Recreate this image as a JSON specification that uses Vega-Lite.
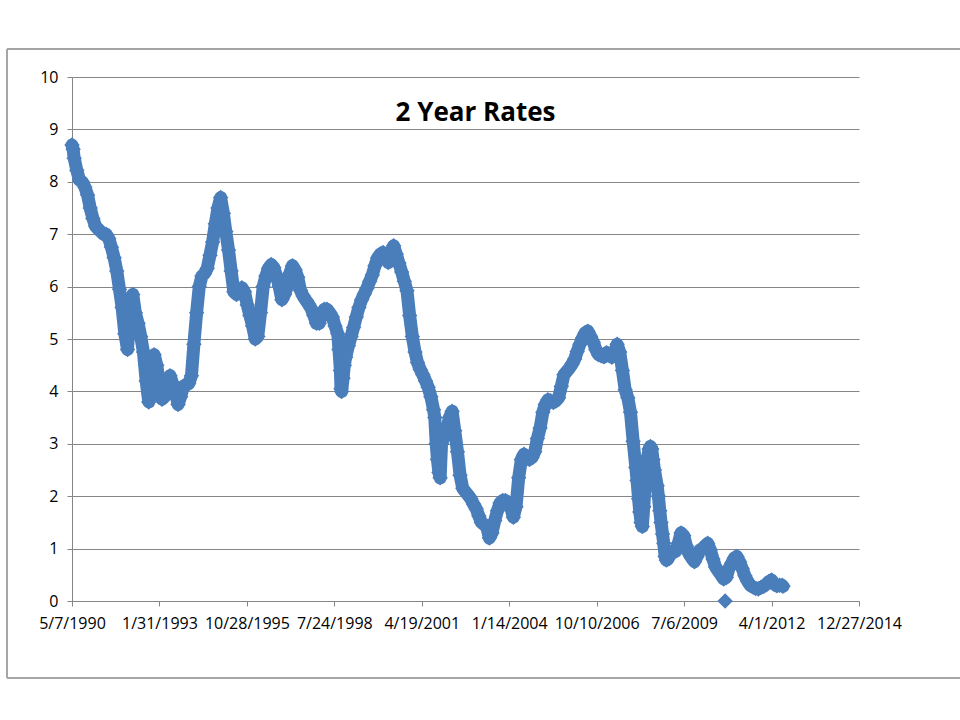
{
  "$schema": "https://vega.github.io/schema/vega-lite/v6.json",
  "autosize": {"type": "none"},
  "padding": {"left": 72, "top": 77, "right": 101, "bottom": 119},
  "width": 787,
  "height": 524,
  "background": "white",
  "config": {
    "font": "Open Sans",
    "view": {"stroke": null},
    "axis": {
      "labelFont": "Open Sans",
      "labelFontSize": 16,
      "labelColor": "#000000",
      "domainColor": "#868686",
      "tickColor": "#868686",
      "gridColor": "#868686",
      "gridOpacity": 1,
      "tickSize": 5,
      "title": null
    }
  },
  "title": {
    "text": "2 Year Rates",
    "font": "Open Sans",
    "fontSize": 26,
    "fontWeight": "bold",
    "color": "#000000",
    "anchor": "middle",
    "offset": -77,
    "dx": 10
  },
  "data": {
    "values": [
      {"date": "1990-05-07", "rate": 8.7},
      {"date": "1990-05-20", "rate": 8.62},
      {"date": "1990-06-01", "rate": 8.45},
      {"date": "1990-07-01", "rate": 8.22},
      {"date": "1990-08-01", "rate": 8.03},
      {"date": "1990-09-01", "rate": 8.0},
      {"date": "1990-10-01", "rate": 7.9},
      {"date": "1990-11-01", "rate": 7.75},
      {"date": "1990-12-01", "rate": 7.5},
      {"date": "1991-01-01", "rate": 7.3},
      {"date": "1991-02-01", "rate": 7.15},
      {"date": "1991-03-01", "rate": 7.1},
      {"date": "1991-04-01", "rate": 7.05},
      {"date": "1991-05-01", "rate": 7.0},
      {"date": "1991-06-01", "rate": 7.0},
      {"date": "1991-07-01", "rate": 6.92},
      {"date": "1991-08-01", "rate": 6.75},
      {"date": "1991-09-01", "rate": 6.55},
      {"date": "1991-10-01", "rate": 6.3},
      {"date": "1991-11-01", "rate": 5.95},
      {"date": "1991-12-01", "rate": 5.6},
      {"date": "1992-01-01", "rate": 5.1},
      {"date": "1992-02-01", "rate": 4.8},
      {"date": "1992-03-01", "rate": 5.6},
      {"date": "1992-04-01", "rate": 5.85},
      {"date": "1992-05-01", "rate": 5.5},
      {"date": "1992-06-01", "rate": 5.3},
      {"date": "1992-07-01", "rate": 5.05},
      {"date": "1992-08-01", "rate": 4.75},
      {"date": "1992-09-01", "rate": 4.2},
      {"date": "1992-10-01", "rate": 3.8},
      {"date": "1992-11-01", "rate": 4.2},
      {"date": "1992-12-01", "rate": 4.7},
      {"date": "1993-01-01", "rate": 4.5},
      {"date": "1993-02-01", "rate": 4.1},
      {"date": "1993-03-01", "rate": 3.85},
      {"date": "1993-04-01", "rate": 3.9},
      {"date": "1993-05-01", "rate": 4.05},
      {"date": "1993-06-01", "rate": 4.3},
      {"date": "1993-07-01", "rate": 4.15},
      {"date": "1993-08-01", "rate": 4.0},
      {"date": "1993-09-01", "rate": 3.75},
      {"date": "1993-10-01", "rate": 3.9},
      {"date": "1993-11-01", "rate": 4.1},
      {"date": "1993-12-01", "rate": 4.12},
      {"date": "1994-01-01", "rate": 4.15},
      {"date": "1994-02-01", "rate": 4.3},
      {"date": "1994-03-01", "rate": 4.9},
      {"date": "1994-04-01", "rate": 5.5},
      {"date": "1994-05-01", "rate": 6.0},
      {"date": "1994-06-01", "rate": 6.2},
      {"date": "1994-07-01", "rate": 6.25},
      {"date": "1994-08-01", "rate": 6.35},
      {"date": "1994-09-01", "rate": 6.6},
      {"date": "1994-10-01", "rate": 6.85},
      {"date": "1994-11-01", "rate": 7.2},
      {"date": "1994-12-01", "rate": 7.5},
      {"date": "1995-01-01", "rate": 7.7},
      {"date": "1995-02-01", "rate": 7.4},
      {"date": "1995-03-01", "rate": 7.05},
      {"date": "1995-04-01", "rate": 6.7},
      {"date": "1995-05-01", "rate": 6.3},
      {"date": "1995-06-01", "rate": 5.9},
      {"date": "1995-07-01", "rate": 5.85},
      {"date": "1995-08-01", "rate": 5.92},
      {"date": "1995-09-01", "rate": 5.98},
      {"date": "1995-10-01", "rate": 5.9},
      {"date": "1995-11-01", "rate": 5.65},
      {"date": "1995-12-01", "rate": 5.45},
      {"date": "1996-01-01", "rate": 5.25},
      {"date": "1996-02-01", "rate": 5.0},
      {"date": "1996-03-01", "rate": 5.05},
      {"date": "1996-04-01", "rate": 5.5},
      {"date": "1996-05-01", "rate": 6.0},
      {"date": "1996-06-01", "rate": 6.2},
      {"date": "1996-07-01", "rate": 6.35},
      {"date": "1996-08-01", "rate": 6.42},
      {"date": "1996-09-01", "rate": 6.36},
      {"date": "1996-10-01", "rate": 6.2},
      {"date": "1996-11-01", "rate": 6.0},
      {"date": "1996-12-01", "rate": 5.75},
      {"date": "1997-01-01", "rate": 5.85},
      {"date": "1997-02-01", "rate": 6.0},
      {"date": "1997-03-01", "rate": 6.25},
      {"date": "1997-04-01", "rate": 6.4},
      {"date": "1997-05-01", "rate": 6.32},
      {"date": "1997-06-01", "rate": 6.18},
      {"date": "1997-07-01", "rate": 5.93},
      {"date": "1997-08-01", "rate": 5.82},
      {"date": "1997-09-01", "rate": 5.74},
      {"date": "1997-10-01", "rate": 5.67},
      {"date": "1997-11-01", "rate": 5.58},
      {"date": "1997-12-01", "rate": 5.45},
      {"date": "1998-01-01", "rate": 5.3},
      {"date": "1998-02-01", "rate": 5.3},
      {"date": "1998-03-01", "rate": 5.47},
      {"date": "1998-04-01", "rate": 5.57},
      {"date": "1998-05-01", "rate": 5.57},
      {"date": "1998-06-01", "rate": 5.5},
      {"date": "1998-07-01", "rate": 5.42},
      {"date": "1998-08-01", "rate": 5.25},
      {"date": "1998-09-01", "rate": 5.1},
      {"date": "1998-09-15", "rate": 4.8},
      {"date": "1998-10-01", "rate": 4.4},
      {"date": "1998-10-08", "rate": 4.05},
      {"date": "1998-10-15", "rate": 4.0},
      {"date": "1998-11-01", "rate": 4.25},
      {"date": "1998-11-15", "rate": 4.5},
      {"date": "1998-12-01", "rate": 4.65},
      {"date": "1999-01-01", "rate": 4.87},
      {"date": "1999-02-01", "rate": 5.05},
      {"date": "1999-03-01", "rate": 5.22},
      {"date": "1999-04-01", "rate": 5.42},
      {"date": "1999-05-01", "rate": 5.6},
      {"date": "1999-06-01", "rate": 5.75},
      {"date": "1999-07-01", "rate": 5.86},
      {"date": "1999-08-01", "rate": 5.97},
      {"date": "1999-09-01", "rate": 6.1},
      {"date": "1999-10-01", "rate": 6.22},
      {"date": "1999-11-01", "rate": 6.4},
      {"date": "1999-12-01", "rate": 6.55},
      {"date": "2000-01-01", "rate": 6.62},
      {"date": "2000-02-01", "rate": 6.65},
      {"date": "2000-03-01", "rate": 6.55},
      {"date": "2000-04-01", "rate": 6.46},
      {"date": "2000-05-01", "rate": 6.65},
      {"date": "2000-06-01", "rate": 6.78},
      {"date": "2000-07-01", "rate": 6.62},
      {"date": "2000-08-01", "rate": 6.45},
      {"date": "2000-09-01", "rate": 6.28},
      {"date": "2000-10-01", "rate": 6.1},
      {"date": "2000-11-01", "rate": 5.92},
      {"date": "2000-12-01", "rate": 5.45},
      {"date": "2001-01-01", "rate": 5.05},
      {"date": "2001-02-01", "rate": 4.75},
      {"date": "2001-03-01", "rate": 4.55},
      {"date": "2001-04-01", "rate": 4.42},
      {"date": "2001-05-01", "rate": 4.32},
      {"date": "2001-06-01", "rate": 4.2},
      {"date": "2001-07-01", "rate": 4.08},
      {"date": "2001-08-01", "rate": 3.9},
      {"date": "2001-09-01", "rate": 3.65},
      {"date": "2001-09-15", "rate": 3.5},
      {"date": "2001-10-01", "rate": 3.0},
      {"date": "2001-10-15", "rate": 2.7},
      {"date": "2001-11-01", "rate": 2.45},
      {"date": "2001-11-15", "rate": 2.35},
      {"date": "2001-12-01", "rate": 3.0},
      {"date": "2002-01-01", "rate": 3.15},
      {"date": "2002-02-01", "rate": 3.27},
      {"date": "2002-03-01", "rate": 3.5},
      {"date": "2002-04-01", "rate": 3.62},
      {"date": "2002-05-01", "rate": 3.25},
      {"date": "2002-06-01", "rate": 2.85},
      {"date": "2002-07-01", "rate": 2.4},
      {"date": "2002-08-01", "rate": 2.15},
      {"date": "2002-09-01", "rate": 2.08},
      {"date": "2002-10-01", "rate": 2.02},
      {"date": "2002-11-01", "rate": 1.95},
      {"date": "2002-12-01", "rate": 1.85},
      {"date": "2003-01-01", "rate": 1.76},
      {"date": "2003-02-01", "rate": 1.62},
      {"date": "2003-03-01", "rate": 1.5},
      {"date": "2003-04-01", "rate": 1.46},
      {"date": "2003-05-01", "rate": 1.42},
      {"date": "2003-06-01", "rate": 1.2},
      {"date": "2003-07-01", "rate": 1.3},
      {"date": "2003-08-01", "rate": 1.53},
      {"date": "2003-09-01", "rate": 1.72},
      {"date": "2003-10-01", "rate": 1.87},
      {"date": "2003-11-01", "rate": 1.92},
      {"date": "2003-12-01", "rate": 1.92},
      {"date": "2004-01-01", "rate": 1.85},
      {"date": "2004-02-01", "rate": 1.78},
      {"date": "2004-03-01", "rate": 1.6},
      {"date": "2004-04-01", "rate": 1.8},
      {"date": "2004-05-01", "rate": 2.35},
      {"date": "2004-06-01", "rate": 2.7},
      {"date": "2004-07-01", "rate": 2.8},
      {"date": "2004-08-01", "rate": 2.72},
      {"date": "2004-09-01", "rate": 2.7},
      {"date": "2004-10-01", "rate": 2.74},
      {"date": "2004-11-01", "rate": 2.85},
      {"date": "2004-12-01", "rate": 3.1},
      {"date": "2005-01-01", "rate": 3.3},
      {"date": "2005-02-01", "rate": 3.6},
      {"date": "2005-03-01", "rate": 3.75},
      {"date": "2005-04-01", "rate": 3.84},
      {"date": "2005-05-01", "rate": 3.82},
      {"date": "2005-06-01", "rate": 3.79},
      {"date": "2005-07-01", "rate": 3.82},
      {"date": "2005-08-01", "rate": 3.88},
      {"date": "2005-09-01", "rate": 4.1},
      {"date": "2005-10-01", "rate": 4.32},
      {"date": "2005-11-01", "rate": 4.38},
      {"date": "2005-12-01", "rate": 4.44},
      {"date": "2006-01-01", "rate": 4.52},
      {"date": "2006-02-01", "rate": 4.62},
      {"date": "2006-03-01", "rate": 4.76},
      {"date": "2006-04-01", "rate": 4.9},
      {"date": "2006-05-01", "rate": 5.02},
      {"date": "2006-06-01", "rate": 5.12},
      {"date": "2006-07-01", "rate": 5.15},
      {"date": "2006-08-01", "rate": 5.05},
      {"date": "2006-09-01", "rate": 4.94},
      {"date": "2006-10-01", "rate": 4.8},
      {"date": "2006-11-01", "rate": 4.7},
      {"date": "2006-12-01", "rate": 4.68},
      {"date": "2007-01-01", "rate": 4.66},
      {"date": "2007-02-01", "rate": 4.74},
      {"date": "2007-03-01", "rate": 4.7},
      {"date": "2007-04-01", "rate": 4.65},
      {"date": "2007-05-01", "rate": 4.73},
      {"date": "2007-06-01", "rate": 4.9},
      {"date": "2007-07-01", "rate": 4.75},
      {"date": "2007-08-01", "rate": 4.4},
      {"date": "2007-09-01", "rate": 4.03},
      {"date": "2007-10-01", "rate": 3.88},
      {"date": "2007-11-01", "rate": 3.6},
      {"date": "2007-12-01", "rate": 3.05},
      {"date": "2008-01-01", "rate": 2.55},
      {"date": "2008-01-15", "rate": 2.3},
      {"date": "2008-02-01", "rate": 1.95},
      {"date": "2008-02-15", "rate": 1.7},
      {"date": "2008-03-01", "rate": 1.5},
      {"date": "2008-03-15", "rate": 1.42},
      {"date": "2008-04-01", "rate": 1.8},
      {"date": "2008-04-15", "rate": 2.2},
      {"date": "2008-05-01", "rate": 2.5},
      {"date": "2008-05-15", "rate": 2.75},
      {"date": "2008-06-01", "rate": 2.9},
      {"date": "2008-06-15", "rate": 2.95},
      {"date": "2008-07-01", "rate": 2.9},
      {"date": "2008-07-15", "rate": 2.7},
      {"date": "2008-08-01", "rate": 2.5},
      {"date": "2008-09-01", "rate": 2.2},
      {"date": "2008-09-15", "rate": 2.0},
      {"date": "2008-10-01", "rate": 1.72},
      {"date": "2008-10-15", "rate": 1.5},
      {"date": "2008-11-01", "rate": 1.28},
      {"date": "2008-11-15", "rate": 1.1},
      {"date": "2008-12-01", "rate": 0.85},
      {"date": "2008-12-15", "rate": 0.78},
      {"date": "2009-01-01", "rate": 0.8},
      {"date": "2009-02-01", "rate": 0.92},
      {"date": "2009-03-01", "rate": 0.95},
      {"date": "2009-04-01", "rate": 0.95},
      {"date": "2009-05-01", "rate": 1.1},
      {"date": "2009-06-01", "rate": 1.3},
      {"date": "2009-07-01", "rate": 1.25},
      {"date": "2009-08-01", "rate": 1.05},
      {"date": "2009-09-01", "rate": 0.9},
      {"date": "2009-10-01", "rate": 0.82},
      {"date": "2009-11-01", "rate": 0.75},
      {"date": "2009-12-01", "rate": 0.85},
      {"date": "2010-01-01", "rate": 0.97},
      {"date": "2010-02-01", "rate": 1.0},
      {"date": "2010-03-01", "rate": 1.05},
      {"date": "2010-04-01", "rate": 1.1},
      {"date": "2010-05-01", "rate": 0.98},
      {"date": "2010-06-01", "rate": 0.8},
      {"date": "2010-07-01", "rate": 0.65},
      {"date": "2010-08-01", "rate": 0.57},
      {"date": "2010-09-01", "rate": 0.5},
      {"date": "2010-10-01", "rate": 0.42},
      {"date": "2010-10-18", "rate": 0.0},
      {"date": "2010-11-01", "rate": 0.45},
      {"date": "2010-12-01", "rate": 0.62},
      {"date": "2011-01-01", "rate": 0.72},
      {"date": "2011-02-01", "rate": 0.82},
      {"date": "2011-03-01", "rate": 0.85},
      {"date": "2011-04-01", "rate": 0.75},
      {"date": "2011-05-01", "rate": 0.62},
      {"date": "2011-06-01", "rate": 0.48},
      {"date": "2011-07-01", "rate": 0.38},
      {"date": "2011-08-01", "rate": 0.3},
      {"date": "2011-09-01", "rate": 0.27},
      {"date": "2011-10-01", "rate": 0.24},
      {"date": "2011-11-01", "rate": 0.23},
      {"date": "2011-12-01", "rate": 0.26},
      {"date": "2012-01-01", "rate": 0.28},
      {"date": "2012-02-01", "rate": 0.32},
      {"date": "2012-03-01", "rate": 0.37},
      {"date": "2012-04-01", "rate": 0.4},
      {"date": "2012-05-01", "rate": 0.32},
      {"date": "2012-06-01", "rate": 0.29},
      {"date": "2012-07-01", "rate": 0.3},
      {"date": "2012-08-01", "rate": 0.3},
      {"date": "2012-08-10", "rate": 0.28}
    ]
  },
  "encoding": {
    "x": {
      "field": "date",
      "type": "temporal",
      "scale": {
        "type": "utc",
        "domain": [
          {"year": 1990, "month": 5, "date": 7, "utc": true},
          {"year": 2014, "month": 12, "date": 27, "utc": true}
        ]
      },
      "axis": {
        "format": "%-m/%-d/%Y",
        "labelAngle": 0,
        "labelPadding": 9,
        "labelFlush": false,
        "labelOverlap": false,
        "grid": false,
        "values": [
          {"year": 1990, "month": 5, "date": 7, "utc": true},
          {"year": 1993, "month": 1, "date": 31, "utc": true},
          {"year": 1995, "month": 10, "date": 28, "utc": true},
          {"year": 1998, "month": 7, "date": 24, "utc": true},
          {"year": 2001, "month": 4, "date": 19, "utc": true},
          {"year": 2004, "month": 1, "date": 14, "utc": true},
          {"year": 2006, "month": 10, "date": 10, "utc": true},
          {"year": 2009, "month": 7, "date": 6, "utc": true},
          {"year": 2012, "month": 4, "date": 1, "utc": true},
          {"year": 2014, "month": 12, "date": 27, "utc": true}
        ]
      }
    },
    "y": {
      "field": "rate",
      "type": "quantitative",
      "scale": {"domain": [0, 10], "nice": false, "zero": true},
      "axis": {
        "values": [0, 1, 2, 3, 4, 5, 6, 7, 8, 9, 10],
        "labelPadding": 9,
        "grid": true
      }
    }
  },
  "layer": [
    {
      "mark": {"type": "rect", "fill": null, "stroke": "#A6A6A6", "strokeWidth": 1, "clip": false},
      "encoding": {
        "x": {"datum": {"year": 1988, "month": 4, "date": 24, "utc": true}, "type": "temporal"},
        "x2": {"datum": {"year": 2018, "month": 6, "date": 1, "utc": true}},
        "y": {"datum": 10.53, "type": "quantitative"},
        "y2": {"datum": -1.47}
      }
    },
    {
      "transform": [{"filter": "datum.rate > 0"}],
      "mark": {"type": "line", "color": "#4A7EBB", "strokeWidth": 13, "strokeJoin": "round", "strokeCap": "round"},
      "encoding": {}
    },
    {
      "mark": {"type": "point", "shape": "diamond", "filled": true, "color": "#4A7EBB", "opacity": 1, "size": 240}
    }
  ]
}
